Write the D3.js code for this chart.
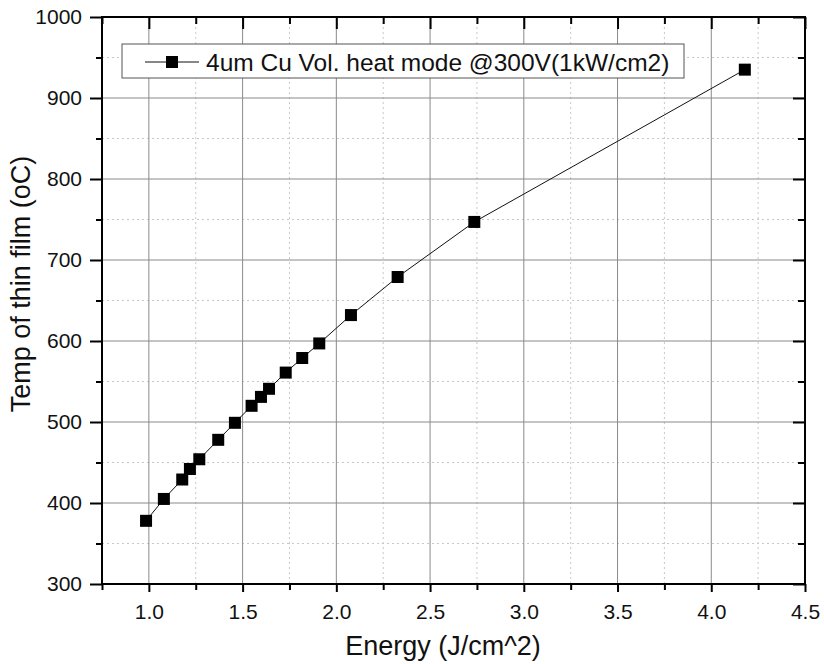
<!DOCTYPE html>
<html>
<head>
<meta charset="utf-8">
<script src="https://cdn.jsdelivr.net/npm/d3@7"></script>
<style>
  body { margin: 0; background: #fff; }
  svg { font-family: "Liberation Sans", Arial, sans-serif; }
</style>
</head>
<body>
<svg width="824" height="664"></svg>
<script>
const energy = [0.985, 1.08, 1.178, 1.219, 1.269, 1.37, 1.459, 1.548, 1.598, 1.641,
    1.73, 1.818, 1.909, 2.078, 2.327, 2.736, 4.179]
const temp = [378, 405, 429, 442, 454, 478, 499, 520, 531, 541,
    561, 579, 597, 632, 679, 747, 935]
const xTicks = [1.0, 1.5, 2.0, 2.5, 3.0, 3.5, 4.0, 4.5]
const yTicks = [300, 400, 500, 600, 700, 800, 900, 1000]
const legendLabel = '4um Cu Vol. heat mode @300V(1kW/cm2)'

const svg = d3.select('svg')
const pLeft = 102, pRight = 805, pTop = 17, pBottom = 584

const x = d3.scaleLinear().domain([0.75, 4.5]).range([pLeft, pRight])
const y = d3.scaleLinear().domain([300, 1000]).range([pBottom, pTop])

const xMinor = d3.range(0.75, 4.51, 0.25).filter(v => !xTicks.some(t => Math.abs(t - v) < 1e-6))
const yMinor = d3.range(350, 1000, 100)

// minor grid (dotted)
svg.append('g').selectAll('line').data(xMinor).join('line')
    .attr('x1', d => x(d)).attr('x2', d => x(d))
    .attr('y1', pTop).attr('y2', pBottom)
    .attr('stroke', '#c8c8c8').attr('stroke-dasharray', '2,3')
svg.append('g').selectAll('line').data(yMinor).join('line')
    .attr('x1', pLeft).attr('x2', pRight)
    .attr('y1', d => y(d)).attr('y2', d => y(d))
    .attr('stroke', '#c8c8c8').attr('stroke-dasharray', '2,3')

// major grid
svg.append('g').selectAll('line').data(xTicks.filter(d => d < 4.5)).join('line')
    .attr('x1', d => x(d)).attr('x2', d => x(d))
    .attr('y1', pTop).attr('y2', pBottom)
    .attr('stroke', '#8a8a8a').attr('stroke-width', 1)
svg.append('g').selectAll('line').data(yTicks.filter(d => d > 300 && d < 1000)).join('line')
    .attr('x1', pLeft).attr('x2', pRight)
    .attr('y1', d => y(d)).attr('y2', d => y(d))
    .attr('stroke', '#8a8a8a').attr('stroke-width', 1)

// axes
svg.append('g').attr('transform', `translate(0,${pBottom})`)
    .call(d3.axisBottom(x).tickValues(xTicks).tickFormat(d3.format('.1f')).tickSize(8).tickPadding(12))
svg.append('g').attr('transform', `translate(0,${pBottom})`)
    .call(d3.axisBottom(x).tickValues(xMinor).tickFormat('').tickSize(6))
svg.append('g').attr('transform', `translate(${pLeft},0)`)
    .call(d3.axisLeft(y).tickValues(yTicks).tickFormat(d3.format('d')).tickSize(12).tickPadding(8))
svg.append('g').attr('transform', `translate(${pLeft},0)`)
    .call(d3.axisLeft(y).tickValues(yMinor).tickFormat('').tickSize(6))
svg.append('g').attr('transform', `translate(0,${pTop})`)
    .call(d3.axisBottom(x).tickValues(xTicks).tickFormat('').tickSize(12))
svg.append('g').attr('transform', `translate(0,${pTop})`)
    .call(d3.axisBottom(x).tickValues(xMinor).tickFormat('').tickSize(7))
svg.append('g').attr('transform', `translate(${pRight},0)`)
    .call(d3.axisLeft(y).tickValues(yTicks).tickFormat('').tickSize(12))
svg.append('g').attr('transform', `translate(${pRight},0)`)
    .call(d3.axisLeft(y).tickValues(yMinor).tickFormat('').tickSize(7))

svg.selectAll('.domain').remove()
svg.selectAll('.tick line').attr('stroke', '#000').attr('stroke-width', 2)
svg.selectAll('.tick text').attr('font-size', 21).attr('fill', '#111')
    .attr('font-family', '"Liberation Sans", Arial, sans-serif')

svg.append('rect')
    .attr('x', pLeft).attr('y', pTop)
    .attr('width', pRight - pLeft).attr('height', pBottom - pTop)
    .attr('fill', 'none').attr('stroke', '#000').attr('stroke-width', 2)

// data
const pts = energy.map((e, i) => [e, temp[i]])
svg.append('path')
    .datum(pts)
    .attr('d', d3.line().x(d => x(d[0])).y(d => y(d[1])))
    .attr('fill', 'none').attr('stroke', '#111').attr('stroke-width', 1)
const ms = 12
svg.append('g').selectAll('rect').data(pts).join('rect')
    .attr('x', d => x(d[0]) - ms / 2).attr('y', d => y(d[1]) - ms / 2)
    .attr('width', ms).attr('height', ms).attr('fill', '#000')

// legend
const lg = svg.append('g')
lg.append('rect').attr('x', 122).attr('y', 44).attr('width', 562).attr('height', 34)
    .attr('fill', '#fff').attr('stroke', '#555').attr('stroke-width', 1)
lg.append('line').attr('x1', 145).attr('x2', 199).attr('y1', 62).attr('y2', 62)
    .attr('stroke', '#111')
lg.append('rect').attr('x', 166).attr('y', 56).attr('width', ms).attr('height', ms).attr('fill', '#000')
lg.append('text').attr('x', 206).attr('y', 71).attr('font-size', 24.5).attr('fill', '#111')
    .text(legendLabel)

// axis titles
svg.append('text').attr('x', 443).attr('y', 655)
    .attr('text-anchor', 'middle').attr('font-size', 27).attr('fill', '#111')
    .text('Energy (J/cm^2)')
svg.append('text')
    .attr('transform', 'translate(30,284) rotate(-90)')
    .attr('text-anchor', 'middle').attr('font-size', 27).attr('fill', '#111')
    .text('Temp of thin film (oC)')
</script>
</body>
</html>
